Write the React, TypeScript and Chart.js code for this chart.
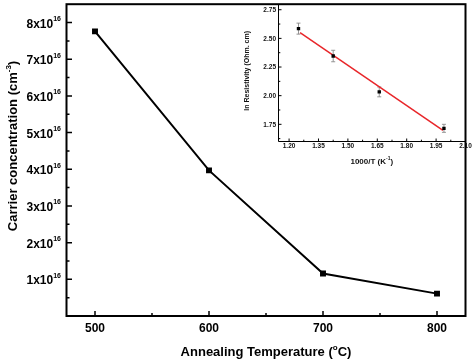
import React, { useEffect, useRef } from "react";
import Chart from "chart.js/auto";

// ---------- data ----------
const annealTemps = [500, 600, 700, 800];
const carrierConc = [7.76e16, 3.97e16, 1.16e16, 0.61e16];

const mainXTickValues = [500, 600, 700, 800];
const mainXMinorValues = [550, 650, 750];
const mainYTickMantissas = [1, 2, 3, 4, 5, 6, 7, 8];
const mainYMinorMantissas = [0.5, 1.5, 2.5, 3.5, 4.5, 5.5, 6.5, 7.5];
const mainYExponent = "16";

const invTemp = [1.248, 1.425, 1.66, 1.99];
const lnResistivity = [2.585, 2.346, 2.033, 1.715];
const lnResErr = [0.048, 0.05, 0.043, 0.035];
const fitInvTemp = [1.256, 1.985];
const fitLnRes = [2.55, 1.698];

const insetXTickValues = [1.2, 1.35, 1.5, 1.65, 1.8, 1.95, 2.1];
const insetXMinorValues = [1.275, 1.425, 1.575, 1.725, 1.875, 2.025];
const insetYTickValues = [1.75, 2.0, 2.25, 2.5, 2.75];
const insetYMinorValues = [1.625, 1.875, 2.125, 2.375, 2.625];

const FONT = '"Liberation Sans", Arial, Helvetica, sans-serif';

type Seg = { t: string; sup?: boolean };

function richText(
  ctx: CanvasRenderingContext2D,
  segs: Seg[],
  x: number,
  y: number,
  align: "left" | "center" | "right",
  base: number,
  sup: number,
  raise: number
) {
  const fB = `bold ${base}px ${FONT}`;
  const fS = `bold ${sup}px ${FONT}`;
  const widths = segs.map((s) => {
    ctx.font = s.sup ? fS : fB;
    return ctx.measureText(s.t).width;
  });
  const total = widths.reduce((a, b) => a + b, 0);
  let cx = align === "left" ? x : align === "center" ? x - total / 2 : x - total;
  ctx.textAlign = "left";
  ctx.textBaseline = "alphabetic";
  segs.forEach((s, i) => {
    ctx.font = s.sup ? fS : fB;
    ctx.fillText(s.t, cx, s.sup ? y - raise : y);
    cx += widths[i];
  });
}

export default function App() {
  const mainRef = useRef<HTMLCanvasElement>(null);
  const insetRef = useRef<HTMLCanvasElement>(null);

  useEffect(() => {
    document.body.style.margin = "0";
    Chart.defaults.font.family = FONT;

    const mainPlugin = {
      id: "mainDecor",
      afterDraw(chart: any) {
        const ctx: CanvasRenderingContext2D = chart.ctx;
        const a = chart.chartArea;
        const xs = chart.scales.x;
        const ys = chart.scales.y;
        ctx.save();
        ctx.strokeStyle = "#000";
        ctx.fillStyle = "#000";
        ctx.lineWidth = 1.5;
        ctx.beginPath();
        mainXTickValues.forEach((v) => {
          const p = xs.getPixelForValue(v);
          ctx.moveTo(p, a.bottom);
          ctx.lineTo(p, a.bottom - 5);
        });
        mainXMinorValues.forEach((v) => {
          const p = xs.getPixelForValue(v);
          ctx.moveTo(p, a.bottom);
          ctx.lineTo(p, a.bottom - 3);
        });
        mainYTickMantissas.forEach((m) => {
          const p = ys.getPixelForValue(m * 1e16);
          ctx.moveTo(a.left, p);
          ctx.lineTo(a.left + 5.5, p);
        });
        mainYMinorMantissas.forEach((m) => {
          const p = ys.getPixelForValue(m * 1e16);
          ctx.moveTo(a.left, p);
          ctx.lineTo(a.left + 3, p);
        });
        ctx.stroke();
        ctx.lineWidth = 2;
        ctx.strokeRect(a.left, a.top, a.right - a.left, a.bottom - a.top);

        // x tick labels
        mainXTickValues.forEach((v) => {
          const p = xs.getPixelForValue(v);
          richText(ctx, [{ t: String(v) }], p, a.bottom + 16, "center", 12, 7, 0);
        });
        // y tick labels
        mainYTickMantissas.forEach((m) => {
          const p = ys.getPixelForValue(m * 1e16);
          richText(
            ctx,
            [{ t: `${m}x10` }, { t: mainYExponent, sup: true }],
            a.left - 5.5,
            p + 5,
            "right",
            12,
            7,
            6.5
          );
        });
        // x title
        richText(
          ctx,
          [{ t: "Annealing Temperature (" }, { t: "o", sup: true }, { t: "C)" }],
          (a.left + a.right) / 2,
          355.5,
          "center",
          13,
          8,
          6
        );
        // y title
        ctx.save();
        ctx.translate(17, 146);
        ctx.rotate(-Math.PI / 2);
        richText(
          ctx,
          [{ t: "Carrier concentration (cm" }, { t: "-3", sup: true }, { t: ")" }],
          0,
          0,
          "center",
          13,
          8,
          6
        );
        ctx.restore();
        ctx.restore();
      },
    };

    const main = new Chart(mainRef.current as HTMLCanvasElement, {
      type: "scatter",
      data: {
        datasets: [
          {
            data: annealTemps.map((t, i) => ({ x: t, y: carrierConc[i] })),
            showLine: true,
            borderColor: "#000",
            backgroundColor: "#000",
            borderWidth: 2,
            pointStyle: "rect",
            pointRadius: 4.2,
            pointBorderWidth: 0,
          },
        ],
      },
      options: {
        responsive: false,
        animation: false,
        events: [],
        layout: { padding: { left: 0, top: 3, right: 8.5, bottom: 0 } },
        plugins: { legend: { display: false }, tooltip: { enabled: false } },
        scales: {
          x: {
            type: "linear",
            min: 475,
            max: 825,
            ticks: { display: false },
            grid: { display: false },
            border: { display: false },
            afterFit: (s: any) => {
              s.height = 47;
            },
          },
          y: {
            type: "linear",
            min: 0,
            max: 8.5e16,
            ticks: { display: false },
            grid: { display: false },
            border: { display: false },
            afterFit: (s: any) => {
              s.width = 66.5;
            },
          },
        },
      },
      plugins: [mainPlugin],
    } as any);

    const insetPlugin = {
      id: "insetDecor",
      beforeDatasetsDraw(chart: any) {
        const ctx: CanvasRenderingContext2D = chart.ctx;
        const xs = chart.scales.x;
        const ys = chart.scales.y;
        ctx.save();
        ctx.strokeStyle = "#8a8a8a";
        ctx.lineWidth = 0.9;
        ctx.beginPath();
        invTemp.forEach((xv, i) => {
          const px = xs.getPixelForValue(xv);
          const pTop = ys.getPixelForValue(lnResistivity[i] + lnResErr[i]);
          const pBot = ys.getPixelForValue(lnResistivity[i] - lnResErr[i]);
          ctx.moveTo(px, pTop);
          ctx.lineTo(px, pBot);
          ctx.moveTo(px - 2, pTop);
          ctx.lineTo(px + 2, pTop);
          ctx.moveTo(px - 2, pBot);
          ctx.lineTo(px + 2, pBot);
        });
        ctx.stroke();
        ctx.restore();
      },
      afterDraw(chart: any) {
        const ctx: CanvasRenderingContext2D = chart.ctx;
        const a = chart.chartArea;
        const xs = chart.scales.x;
        const ys = chart.scales.y;
        ctx.save();
        ctx.strokeStyle = "#000";
        ctx.fillStyle = "#111";
        ctx.lineWidth = 1;
        ctx.beginPath();
        ctx.moveTo(a.left, a.top);
        ctx.lineTo(a.left, a.bottom);
        ctx.lineTo(a.right, a.bottom);
        insetXTickValues.forEach((v) => {
          const p = xs.getPixelForValue(v);
          ctx.moveTo(p, a.bottom);
          ctx.lineTo(p, a.bottom - 3);
        });
        insetXMinorValues.forEach((v) => {
          const p = xs.getPixelForValue(v);
          ctx.moveTo(p, a.bottom);
          ctx.lineTo(p, a.bottom - 1.8);
        });
        insetYTickValues.forEach((v) => {
          const p = ys.getPixelForValue(v);
          ctx.moveTo(a.left, p);
          ctx.lineTo(a.left + 3, p);
        });
        insetYMinorValues.forEach((v) => {
          const p = ys.getPixelForValue(v);
          ctx.moveTo(a.left, p);
          ctx.lineTo(a.left + 1.8, p);
        });
        ctx.stroke();

        insetXTickValues.forEach((v) => {
          const p = xs.getPixelForValue(v);
          richText(ctx, [{ t: v.toFixed(2) }], p, a.bottom + 6.8, "center", 6.5, 5, 0);
        });
        insetYTickValues.forEach((v) => {
          const p = ys.getPixelForValue(v);
          richText(ctx, [{ t: v.toFixed(2) }], a.left - 2.5, p + 2.3, "right", 6.5, 5, 0);
        });
        // x title
        richText(
          ctx,
          [{ t: "1000/T (K" }, { t: "-1", sup: true }, { t: ")" }],
          371.8 - 230,
          164,
          "center",
          8,
          5,
          4
        );
        // y title
        ctx.save();
        ctx.translate(249 - 230, 70.8);
        ctx.rotate(-Math.PI / 2);
        richText(ctx, [{ t: "ln Resistivity (Ohm. cm)" }], 0, 0, "center", 7, 5, 0);
        ctx.restore();
        ctx.restore();
      },
    };

    const inset = new Chart(insetRef.current as HTMLCanvasElement, {
      type: "scatter",
      data: {
        datasets: [
          {
            data: fitInvTemp.map((x, i) => ({ x, y: fitLnRes[i] })),
            showLine: true,
            borderColor: "#e8262a",
            borderWidth: 1.5,
            pointRadius: 0,
            order: 2,
          },
          {
            data: invTemp.map((x, i) => ({ x, y: lnResistivity[i] })),
            showLine: false,
            backgroundColor: "#000",
            borderColor: "#000",
            pointStyle: "rect",
            pointRadius: 2.4,
            pointBorderWidth: 0,
            order: 1,
          },
        ],
      },
      options: {
        responsive: false,
        animation: false,
        events: [],
        layout: { padding: { left: 0, top: 3, right: 8.5, bottom: 0 } },
        plugins: { legend: { display: false }, tooltip: { enabled: false } },
        scales: {
          x: {
            type: "linear",
            min: 1.146,
            max: 2.1,
            ticks: { display: false },
            grid: { display: false },
            border: { display: false },
            afterFit: (s: any) => {
              s.height = 33.5;
            },
          },
          y: {
            type: "linear",
            min: 1.6,
            max: 2.8,
            ticks: { display: false },
            grid: { display: false },
            border: { display: false },
            afterFit: (s: any) => {
              s.width = 48.5;
            },
          },
        },
      },
      plugins: [insetPlugin],
    } as any);

    return () => {
      main.destroy();
      inset.destroy();
    };
  }, []);

  return (
    <div style={{ position: "relative", width: 474, height: 363, background: "#fff" }}>
      <canvas
        ref={mainRef}
        width={474}
        height={363}
        style={{ position: "absolute", left: 0, top: 0, width: 474, height: 363 }}
      />
      <canvas
        ref={insetRef}
        width={244}
        height={175}
        style={{ position: "absolute", left: 230, top: 0, width: 244, height: 175 }}
      />
    </div>
  );
}
